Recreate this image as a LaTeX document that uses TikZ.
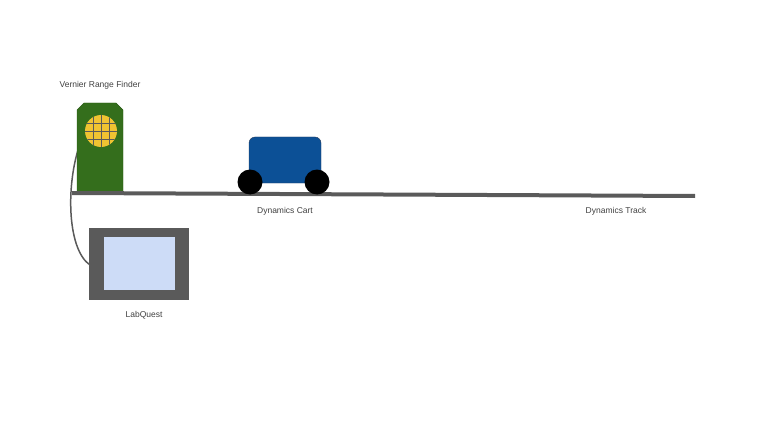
\documentclass[tikz,border=0pt]{standalone}
\usepackage{fontspec}
\setmainfont{Liberation Sans}
\definecolor{trk}{HTML}{5A5A5A}
\definecolor{rfg}{RGB}{52,110,28}
\definecolor{rfd}{RGB}{40,90,20}
\definecolor{lensc}{RGB}{240,195,50}
\definecolor{cartc}{RGB}{12,80,150}
\definecolor{cartd}{RGB}{40,60,90}
\definecolor{scr}{RGB}{205,220,247}
\begin{document}
\begin{tikzpicture}[x=1pt,y=-1pt,
  lbl/.style={text=black!75,font=\fontsize{8.5}{10}\selectfont,inner sep=0pt}]
\useasboundingbox (0,0) rectangle (768,433);
% cable
\draw[trk,line width=1.5pt] (78,150) .. controls (66,190) and (68,250) .. (90,265);
% range finder
\draw[fill=rfg,draw=rfd] (77,193) -- (77,110) -- (84,103) -- (116,103) -- (123,110) -- (123,193) -- cycle;
\node[circle,minimum size=32pt,inner sep=0pt,fill=lensc] (lens) at (101,131) {};
\begin{scope}
\clip (101,131) circle (16);
\foreach \d in {-8,0,8}{
 \draw[trk,line width=0.8pt] (101+\d,110) -- (101+\d,150);
 \draw[trk,line width=0.8pt] (80,131+\d) -- (122,131+\d);}
\end{scope}
\node[lbl] (rf) at (100,85) {Vernier Range Finder};
% track
\draw[trk,line width=4pt] (72,193) -- (695,196);
\node[lbl] (tr) at (616,211) {Dynamics Track};
% cart
\draw[fill=cartc,draw=cartd,rounded corners=6pt] (249,137) rectangle (321,183);
\fill (250,182) circle (12.5);
\fill (317,182) circle (12.5);
\node[lbl] (dc) at (285,211) {Dynamics Cart};
% LabQuest
\fill[trk] (89,228) rectangle (189,300);
\fill[scr] (104,237) rectangle (175,290);
\node[lbl] (lq) at (144,315) {LabQuest};
\end{tikzpicture}
\end{document}
